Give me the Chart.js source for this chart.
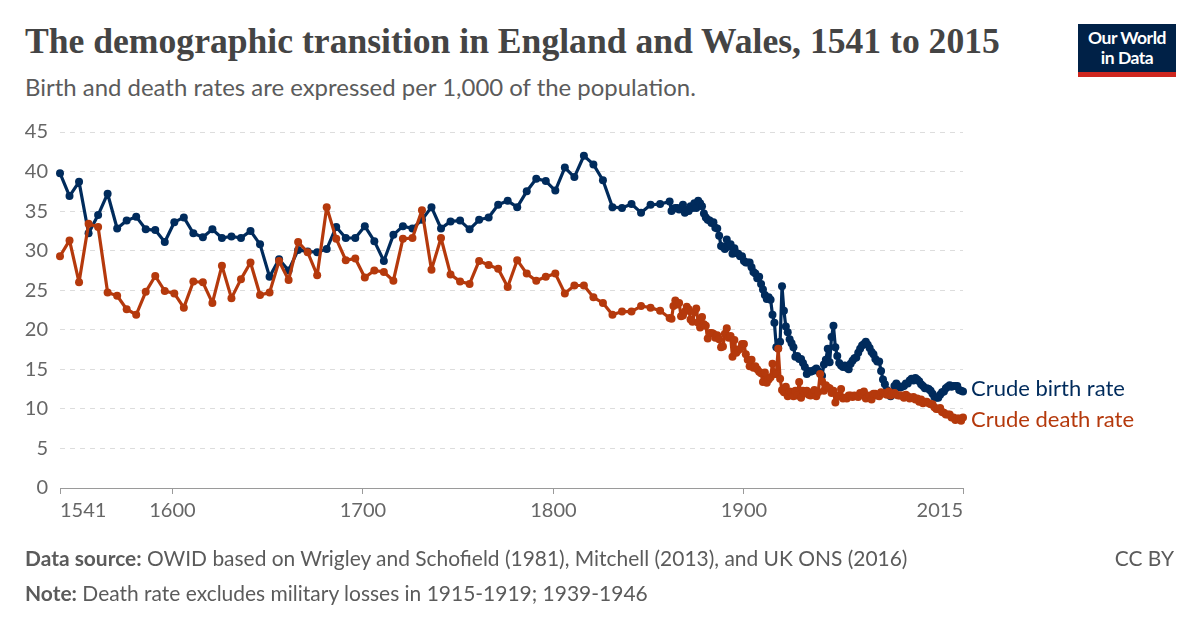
<!DOCTYPE html>
<html><head><meta charset="utf-8">
<script src="https://cdn.jsdelivr.net/npm/chart.js@4.4.1/dist/chart.umd.min.js"></script>
<style>
html,body{margin:0;padding:0;background:#fff;width:1200px;height:627px;overflow:hidden;font-family:Lato,sans-serif;}
#title{position:absolute;left:25px;top:24px;font-family:"Liberation Serif",serif;font-weight:bold;font-size:35px;color:#444;white-space:nowrap;line-height:1;}
#subtitle{position:absolute;left:25px;top:75px;font-size:20px;color:#5b5b5b;white-space:nowrap;line-height:1;}
#logo{position:absolute;left:1078px;top:24px;width:98px;height:53px;background:#002147;}
#logo .bar{position:absolute;left:0;bottom:0;width:100%;height:5px;background:#ce261e}
#logo .t{position:absolute;top:4px;width:100%;text-align:center;color:#fff;font-weight:bold;font-size:17.5px;line-height:20px;letter-spacing:-0.5px}
#chart{position:absolute;left:0;top:0}
.foot{position:absolute;font-size:17px;color:#5b5b5b;white-space:nowrap;line-height:1}
.foot b{font-weight:bold}
</style>
</head><body>
<div id="title">The demographic transition in England and Wales, 1541 to 2015</div>
<div id="subtitle">Birth and death rates are expressed per 1,000 of the population.</div>
<div id="logo"><div class="t">Our World<br>in Data</div><div class="bar"></div></div>
<canvas id="chart" width="1200" height="627"></canvas>
<div class="foot" id="src" style="left:25px;top:548px"><b>Data source:</b> OWID based on Wrigley and Schofield (1981), Mitchell (2013), and UK ONS (2016)</div>
<div class="foot" id="cc" style="right:26px;top:548px">CC BY</div>
<div class="foot" id="note" style="left:25px;top:582px"><b>Note:</b> Death rate excludes military losses in 1915-1919; 1939-1946</div>
<script>
// Quinquennial estimates 1541-1856
const quinYears = [1541,1546,1551,1556,1561,1566,1571,1576,1581,1586,1591,1596,1601,1606,1611,1616,1621,1626,1631,1636,
  1641,1646,1651,1656,1661,1666,1671,1676,1681,1686,1691,1696,1701,1706,1711,1716,1721,1726,1731,1736,
  1741,1746,1751,1756,1761,1766,1771,1776,1781,1786,1791,1796,1801,1806,1811,1816,1821,1826,1831,1836,
  1841,1846,1851,1856];
const quinBirth = [39.8,36.9,38.7,32.2,34.5,37.2,32.8,33.8,34.3,32.7,32.6,31.1,33.6,34.2,32.2,31.7,32.7,31.6,31.8,31.6,
  32.5,30.8,26.7,28.9,27.5,30.1,29.9,29.8,30.2,33.0,31.6,31.6,33.1,31.2,28.7,32.0,33.1,32.8,33.9,35.5,
  32.8,33.7,33.8,32.7,33.9,34.2,35.8,36.3,35.5,37.5,39.1,38.8,37.6,40.5,39.3,42.0,40.9,38.9,35.5,35.4,
  35.9,34.8,35.8,35.9];
const quinDeath = [29.3,31.3,26.0,33.4,33.0,24.7,24.3,22.6,21.9,24.8,26.8,24.9,24.6,22.8,26.1,26.0,23.4,28.1,24.0,26.4,
  28.5,24.4,24.7,28.7,26.3,31.1,29.8,26.9,35.5,31.5,28.8,29.0,26.6,27.5,27.3,26.2,31.5,31.6,35.1,27.6,
  31.6,27.0,26.1,25.8,28.7,28.2,27.7,25.4,28.8,27.1,26.2,26.7,27.1,24.6,25.6,25.6,24.1,23.4,21.9,22.3,
  22.3,23.0,22.8,22.4];
// Annual figures 1861-2015
const annualYears = [1861,1862,1863,1864,1865,1866,1867,1868,1869,1870,
  1871,1872,1873,1874,1875,1876,1877,1878,1879,1880,
  1881,1882,1883,1884,1885,1886,1887,1888,1889,1890,
  1891,1892,1893,1894,1895,1896,1897,1898,1899,1900,
  1901,1902,1903,1904,1905,1906,1907,1908,1909,1910,
  1911,1912,1913,1914,1915,1916,1917,1918,1919,1920,
  1921,1922,1923,1924,1925,1926,1927,1928,1929,1930,
  1931,1932,1933,1934,1935,1936,1937,1938,1939,1940,
  1941,1942,1943,1944,1945,1946,1947,1948,1949,1950,
  1951,1952,1953,1954,1955,1956,1957,1958,1959,1960,
  1961,1962,1963,1964,1965,1966,1967,1968,1969,1970,
  1971,1972,1973,1974,1975,1976,1977,1978,1979,1980,
  1981,1982,1983,1984,1985,1986,1987,1988,1989,1990,
  1991,1992,1993,1994,1995,1996,1997,1998,1999,2000,
  2001,2002,2003,2004,2005,2006,2007,2008,2009,2010,
  2011,2012,2013,2014,2015];
const annualBirth = [36.2,35.0,35.3,35.4,35.4,35.2,35.4,35.8,34.8,35.2,
  35.0,35.6,35.4,36.0,35.4,36.3,36.0,35.6,34.7,34.2,
  33.9,33.8,33.5,33.6,32.9,32.8,31.9,30.6,30.5,30.2,
  31.4,30.5,30.8,29.6,30.3,29.7,29.6,29.3,29.3,28.7,
  28.5,28.5,28.5,27.9,27.3,27.1,26.5,26.7,25.8,25.1,
  24.4,23.9,24.1,23.8,21.9,20.9,17.8,17.7,18.5,25.5,
  22.4,20.4,19.7,18.8,18.3,17.8,16.6,16.7,16.3,16.3,
  15.8,15.3,14.4,14.8,14.7,14.8,14.9,15.1,14.8,14.6,
  14.2,15.6,16.2,17.6,15.9,19.1,20.5,17.8,16.7,15.8,
  15.5,15.3,15.5,15.2,15.0,15.7,16.1,16.4,16.5,17.1,
  17.6,18.0,18.2,18.5,18.1,17.7,17.2,16.9,16.3,16.0,
  16.0,14.8,13.7,13.1,12.4,11.9,11.6,12.1,12.9,13.2,
  12.9,12.7,12.8,12.9,13.2,13.2,13.6,13.8,13.6,13.9,
  13.7,13.5,13.1,12.9,12.6,12.6,12.5,12.3,11.9,11.5,
  11.4,11.4,11.8,12.1,12.2,12.6,12.8,13.0,12.8,12.9,
  12.9,12.9,12.4,12.3,12.2];
const annualDeath = [21.5,21.4,23.0,23.7,23.2,23.4,21.7,21.8,22.3,22.9,
  22.6,21.3,21.0,22.2,22.7,20.9,20.3,21.6,20.7,20.5,
  18.9,19.6,19.6,19.5,19.0,19.3,18.8,17.8,17.9,19.5,
  20.2,19.0,19.2,16.6,18.7,17.1,17.4,17.6,18.2,18.2,
  16.9,16.2,15.4,16.2,15.2,15.4,15.0,14.7,14.5,13.4,
  14.6,13.3,13.7,14.0,15.7,14.4,14.4,17.6,13.8,12.4,
  12.1,12.8,11.6,12.2,12.1,11.6,12.3,11.7,13.4,11.4,
  12.3,12.0,12.3,11.8,11.7,12.1,12.4,11.6,12.1,14.4,
  13.5,12.3,13.0,12.7,12.6,12.0,12.3,10.8,11.7,11.6,
  12.5,11.3,11.4,11.3,11.7,11.7,11.5,11.7,11.6,11.5,
  12.0,11.9,12.2,11.3,11.5,11.7,11.2,11.9,11.9,11.7,
  11.6,12.1,12.0,11.9,11.8,12.2,11.7,11.9,12.0,11.8,
  11.7,11.7,11.7,11.4,11.8,11.6,11.3,11.4,11.5,11.2,
  11.3,10.9,11.2,10.7,10.9,10.9,10.7,10.6,10.6,10.2,
  10.0,10.0,10.1,9.6,9.5,9.3,9.3,9.3,8.9,8.9,
  8.6,8.8,8.8,8.5,8.9];
const xTickValues = [1541,1600,1700,1800,1900,2015];
const yTickMax = 45, yTickStep = 5;
const seriesNames = ['Crude birth rate','Crude death rate'];

const BIRTH = '#002b5c', DEATH = '#b5390c';
const years = quinYears.concat(annualYears);
const birthPts = years.map((y,i)=>({x:y, y: quinBirth.concat(annualBirth)[i]}));
const deathPts = years.map((y,i)=>({x:y, y: quinDeath.concat(annualDeath)[i]}));

function fit(id, w){
  const el=document.getElementById(id);
  const fs=parseFloat(getComputedStyle(el).fontSize);
  el.style.fontSize=(fs*w/el.getBoundingClientRect().width)+'px';
}
fit('title',975);
fit('subtitle',671);
fit('src',883);
fit('note',623);
document.getElementById('cc').style.fontSize=document.getElementById('src').style.fontSize;

const endLabels = {
  id:'endLabels',
  afterDraw(chart){
    const ctx=chart.ctx, xs=chart.scales.x, ys=chart.scales.y, ca=chart.chartArea;
    ctx.save();
    ctx.font='20px Lato'; ctx.fillStyle='#666'; ctx.textBaseline='top';
    xTickValues.forEach((v,i)=>{
      const px=xs.getPixelForValue(v);
      ctx.textAlign = i===0?'left':(i===xTickValues.length-1?'right':'center');
      ctx.fillText(String(v), px, ca.bottom+13);
    });
    let yb = ys.getPixelForValue(birthPts[birthPts.length-1].y);
    let yd = ys.getPixelForValue(deathPts[deathPts.length-1].y);
    const minGap=31;
    if (yd-yb<minGap){const m=(yb+yd)/2; yb=m-minGap/2; yd=m+minGap/2;}
    ctx.font='22px Lato'; ctx.textAlign='left'; ctx.textBaseline='middle';
    ctx.fillStyle=BIRTH; ctx.fillText(seriesNames[0], ca.right+8, yb);
    ctx.fillStyle=DEATH; ctx.fillText(seriesNames[1], ca.right+8, yd);
    ctx.restore();
  }
};

new Chart(document.getElementById('chart'), {
  type:'line',
  data:{datasets:[
    {label:seriesNames[1], data:deathPts, borderColor:DEATH, backgroundColor:DEATH, pointBackgroundColor:DEATH, pointBorderColor:DEATH},
    {label:seriesNames[0], data:birthPts, borderColor:BIRTH, backgroundColor:BIRTH, pointBackgroundColor:BIRTH, pointBorderColor:BIRTH}
  ]},
  options:{
    responsive:false, animation:false,
    layout:{padding:{left:20,right:237,top:132,bottom:99}},
    elements:{line:{borderWidth:3.2, tension:0, borderJoinStyle:'round', borderCapStyle:'round'}, point:{radius:4, borderWidth:0, hoverRadius:4}},
    datasets:{line:{clip:false}},
    plugins:{legend:{display:false}, tooltip:{enabled:false}},
    scales:{
      x:{type:'linear', min:1541, max:2015,
        afterBuildTicks:s=>{s.ticks=xTickValues.map(v=>({value:v}));},
        afterFit:s=>{s.height=40;},
        ticks:{display:false},
        grid:{drawOnChartArea:false, drawTicks:true, tickLength:6, color:'#9a9a9a'},
        border:{display:true, color:'#9a9a9a', width:1}
      },
      y:{min:0, max:yTickMax,
        afterFit:s=>{s.width=40;},
        ticks:{stepSize:yTickStep, color:'#666', font:{family:'Lato', size:20}, padding:12},
        grid:{color:c=>c.tick && c.tick.value===0?'rgba(0,0,0,0)':'#dddddd', drawTicks:false, lineWidth:1},
        border:{display:false, dash:[5,5]}
      }
    }
  },
  plugins:[endLabels]
});
</script>
</body></html>
